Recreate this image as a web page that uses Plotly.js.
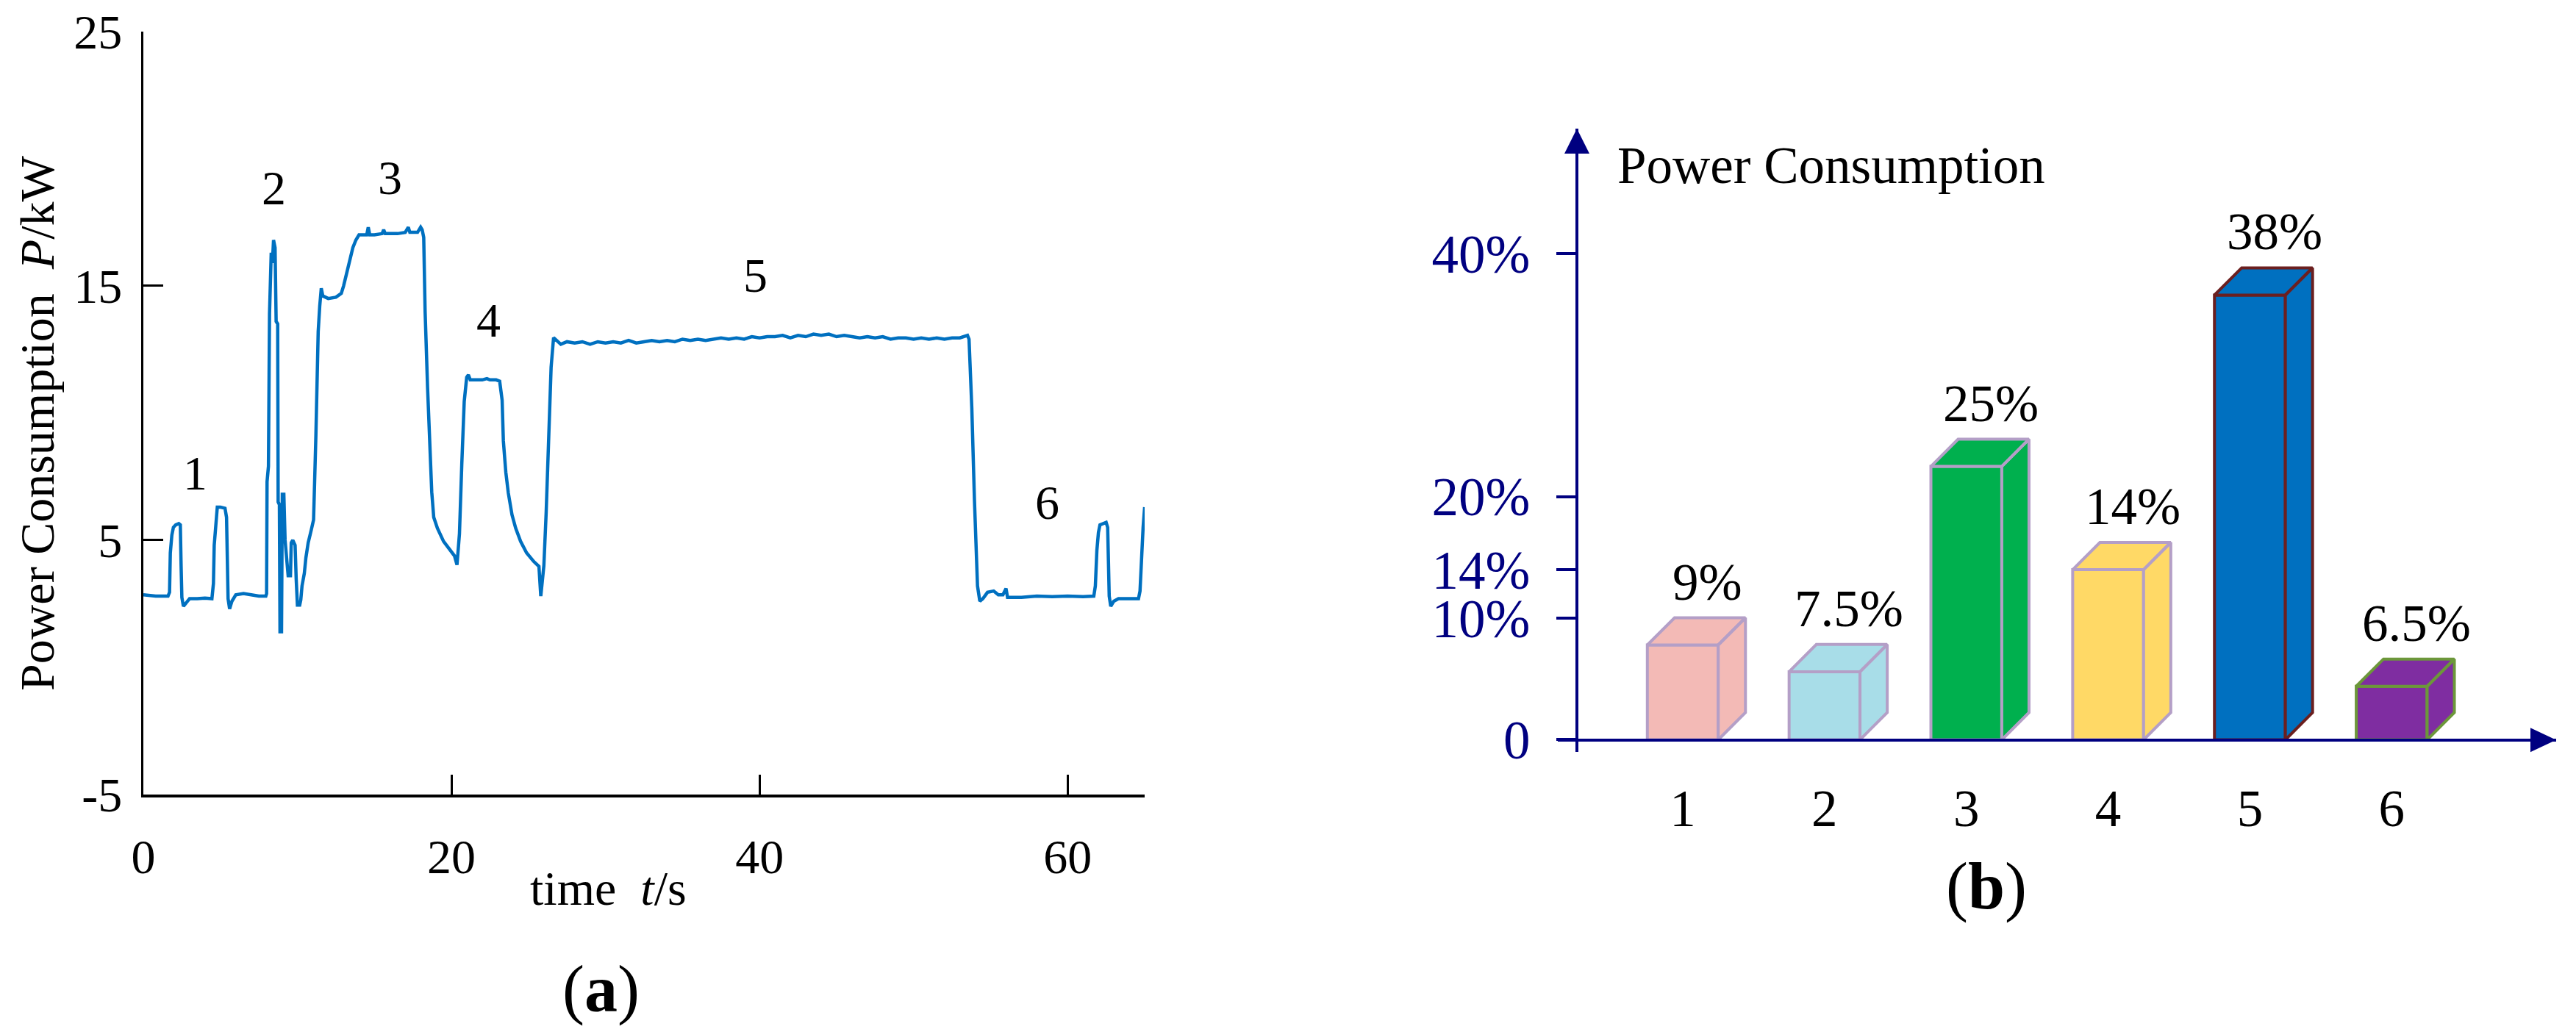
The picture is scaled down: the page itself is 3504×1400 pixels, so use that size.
<!DOCTYPE html>
<html><head><meta charset="utf-8">
<script src="https://cdn.plot.ly/plotly-3.0.1.min.js"></script>
<style>html,body{margin:0;padding:0;background:#fff;} #chart{width:3504px;height:1400px;}</style>
</head><body><div id="chart"></div>
<script>
// ---------- (a) power trace ----------
const timeS = [
 0,0.8,1.6,1.7,1.75,1.85,1.95,2.1,2.3,2.4,2.45,2.5,2.6,2.8,3.0,3.5,4.0,4.45,4.55,4.6,4.7,4.8,5.0,5.3,5.4,5.45,5.5,5.6,5.75,6.0,6.5,7.0,7.5,7.95,
 8.0,8.03,8.12,8.19,8.3,8.38,8.45,8.55,8.62,8.72,8.75,8.83,8.87,8.97,9.02,9.12,9.2,9.3,9.4,9.55,9.6,9.7,9.85,9.92,10.0,10.15,10.22,10.3,10.45,10.55,10.7,10.9,11.05,11.2,11.35,11.45,11.55,11.65,
 12.0,12.5,12.85,13.0,13.2,13.4,13.6,13.8,14.0,14.5,14.6,14.7,15.0,15.5,15.6,15.7,16.5,17.0,17.2,17.3,17.8,18.0,18.1,18.2,
 18.29,18.45,18.61,18.72,18.85,19.09,19.49,19.96,20.2,20.36,20.52,20.67,20.83,20.99,21.1,21.22,21.6,22.0,22.3,22.5,22.9,23.13,23.29,23.37,23.53,23.69,23.93,24.17,24.49,24.88,25.36,25.68,25.8,25.9,26.0,26.15,26.31,26.47,26.63,26.8,27.1,
 27.5,28,28.5,29,29.5,30,30.5,31,31.5,32,32.5,33,33.5,34,34.5,35,35.5,36,36.5,37,37.5,38,38.5,39,39.5,40,40.5,41,41.5,42,42.5,43,43.5,44,44.5,45,45.5,46,46.5,47,47.5,48,48.5,49,49.5,50,50.5,51,51.5,52,52.5,53,53.5,
 53.6,53.7,53.78,53.95,54.05,54.15,54.3,54.5,54.8,55.2,55.5,55.8,56.0,56.1,56.5,57.0,58.0,59.0,60.0,61.0,61.7,61.8,61.9,62.0,62.1,62.3,62.5,62.6,62.65,62.7,62.8,63.0,63.3,64.0,64.6,64.7,64.8,64.9,65.0
];
const powerKW = [
 2.85,2.8,2.8,2.95,4.5,5.2,5.5,5.6,5.65,5.6,4.0,2.75,2.4,2.55,2.7,2.7,2.72,2.7,3.3,4.8,5.8,6.3,6.3,6.25,5.9,4.5,2.7,2.3,2.6,2.85,2.9,2.85,2.8,2.8,
 2.9,7.3,7.9,13.9,16.3,15.9,16.8,16.5,13.6,13.5,6.5,6.4,1.4,1.4,6.8,6.8,5.0,4.3,3.6,3.6,4.9,5.0,4.8,3.5,2.45,2.45,2.65,3.2,3.7,4.3,4.9,5.4,5.8,9.1,13.2,14.2,14.9,14.6,
 14.5,14.55,14.7,15.0,15.5,16.0,16.5,16.8,17.0,17.0,17.3,17.0,17.0,17.05,17.2,17.05,17.05,17.1,17.3,17.1,17.1,17.3,17.2,16.9,
 14.0,11.0,8.8,6.9,5.9,5.47,4.95,4.55,4.38,4.03,5.25,7.96,10.45,11.4,11.5,11.3,11.3,11.3,11.35,11.3,11.3,11.25,10.5,8.9,7.67,6.86,6.0,5.47,4.95,4.5,4.15,3.97,2.8,3.6,4.0,6.1,9.05,11.8,12.96,12.85,12.7,
 12.8,12.75,12.8,12.7,12.8,12.75,12.8,12.75,12.85,12.75,12.8,12.85,12.8,12.85,12.8,12.9,12.85,12.9,12.85,12.9,12.95,12.9,12.95,12.9,13.0,12.95,13.0,13.0,13.05,12.95,13.05,13.0,13.1,13.05,13.1,13.0,13.05,13.0,12.95,13.0,12.95,13.0,12.9,12.95,12.95,12.9,12.95,12.9,12.95,12.9,12.95,12.95,13.05,
 12.9,11.5,10.2,6.6,4.5,3.2,2.6,2.7,2.95,3.0,2.85,2.85,3.1,2.75,2.75,2.75,2.8,2.78,2.8,2.78,2.8,3.2,4.6,5.3,5.6,5.65,5.7,5.5,4.0,2.8,2.4,2.6,2.7,2.7,2.7,3.0,4.5,5.5,6.3
];
const xTicksA = [0, 20, 40, 60];
const yTicksA = [-5, 5, 15, 25];
const yTickTextA = ['-5', '5', '15', '25'];
const phaseNames = ['1', '2', '3', '4', '5', '6'];
const phaseT = [3.36, 8.47, 16.0, 22.4, 39.75, 58.7];
const phaseP = [7.64, 18.86, 19.25, 13.65, 15.4, 6.48];

// ---------- (b) share of power consumption ----------
const categories = [1, 2, 3, 4, 5, 6];
const shares = [9, 7.5, 25, 14, 38, 6.5];          // printed values (%)
const barHeights = [7.8, 5.6, 22.5, 14.0, 36.6, 4.4]; // drawn front-face heights (%)
const yTicksB = [0, 10, 14, 20, 40];
const yTickTextB = ['0', '10%', '14%', '20%', '40%'];
const fillColors = ['#F3BAB6', '#A8DDE8', '#00B04E', '#FFD966', '#0070C0', '#7F2DA1'];
const edgeColors = ['#B49FC7', '#B49FC7', '#B49FC7', '#B49FC7', '#6B1F1F', '#6C973A'];

// ---------- styling constants ----------
const FONT = 'Liberation Serif, "Times New Roman", serif';
const NAVY = '#000080';
const W = 3504, H = 1400;
const px = v => v / W;
const py = v => 1 - v / H;
const BW = 0.5, DX = 0.192, DY = 2.24;   // bar width and 3-D depth (data units)

const traces = [];
traces.push({
  type: 'scatter', mode: 'lines', x: timeS, y: powerKW,
  line: {color: '#0070C0', width: 4.5}, xaxis: 'x', yaxis: 'y', hoverinfo: 'skip'
});
traces.push({
  type: 'bar', x: categories, y: barHeights, width: BW,
  marker: {color: fillColors, line: {color: edgeColors, width: 4}},
  xaxis: 'x2', yaxis: 'y2', hoverinfo: 'skip'
});
categories.forEach((c, i) => {
  const h = barHeights[i];
  const l = c - BW / 2, r = c + BW / 2;
  traces.push({
    type: 'scatter', mode: 'lines', fill: 'toself',
    x: [l, l + DX, r + DX, r, l, null, r, r + DX, r + DX, r, r],
    y: [h, h + DY, h + DY, h, h, null, h, h + DY, DY, 0, h],
    fillcolor: fillColors[i], line: {color: edgeColors[i], width: 4},
    xaxis: 'x2', yaxis: 'y2', hoverinfo: 'skip'
  });
});

const annotations = [];
phaseNames.forEach((n, i) => annotations.push({
  xref: 'x', yref: 'y', x: phaseT[i], y: phaseP[i], text: n, showarrow: false,
  xanchor: 'center', yanchor: 'middle',
  font: {family: FONT, size: 66, color: '#000'}
}));
categories.forEach((c, i) => annotations.push({
  xref: 'x2', yref: 'y2', x: c + DX * 0.9, y: barHeights[i] + DY, text: shares[i] + '%',
  showarrow: false, xanchor: 'center', yanchor: 'bottom', yshift: 8,
  font: {family: FONT, size: 71, color: '#000'}
}));
annotations.push(
  {xref: 'paper', yref: 'paper', x: px(50), y: py(576), textangle: -90,
   xanchor: 'center', yanchor: 'middle',
   text: 'Power Consumption\u00A0\u00A0<i>P</i>/kW', showarrow: false,
   font: {family: FONT, size: 66, color: '#000'}},
  {xref: 'paper', yref: 'paper', x: px(827), y: py(1208), xanchor: 'center', yanchor: 'middle',
   text: 'time\u00A0\u00A0<i>t</i>/s', showarrow: false,
   font: {family: FONT, size: 66, color: '#000'}},
  {xref: 'paper', yref: 'paper', x: px(817), y: py(1346), xanchor: 'center', yanchor: 'middle',
   text: '(<b>a</b>)', showarrow: false,
   font: {family: FONT, size: 90, color: '#000'}},
  {xref: 'paper', yref: 'paper', x: px(2702), y: py(1206), xanchor: 'center', yanchor: 'middle',
   text: '(<b>b</b>)', showarrow: false,
   font: {family: FONT, size: 90, color: '#000'}},
  {xref: 'paper', yref: 'paper', x: px(2198), y: py(249), xanchor: 'left', yanchor: 'bottom', yshift: -17,
   text: 'Power Consumption', showarrow: false,
   font: {family: FONT, size: 71, color: '#000'}}
);

const layout = {
  width: W, height: H, margin: {l: 0, r: 0, t: 0, b: 0},
  paper_bgcolor: '#fff', plot_bgcolor: 'rgba(0,0,0,0)', showlegend: false,
  font: {family: FONT, color: '#000'},
  xaxis: {domain: [px(195), px(1557)], range: [0, 65], tickvals: xTicksA, ticks: 'inside', ticklen: 27,
          tickwidth: 3, tickcolor: '#000', showline: true, linecolor: '#000', linewidth: 3.5,
          showgrid: false, zeroline: false, tickfont: {family: FONT, size: 66, color: '#000'},
          ticklabelstandoff: 24, anchor: 'y', fixedrange: true},
  yaxis: {domain: [py(1081), py(42.7)], range: [-5, 25], tickvals: yTicksA, ticktext: yTickTextA,
          ticks: 'inside', ticklen: 27,
          tickwidth: 3, tickcolor: '#000', showline: true, linecolor: '#000', linewidth: 3.5,
          showgrid: false, zeroline: false, tickfont: {family: FONT, size: 66, color: '#000'},
          ticklabelstandoff: 12, anchor: 'x', fixedrange: true},
  xaxis2: {domain: [px(2119), px(3477)], range: [0.1185, 7.16], tickvals: categories,
           ticktext: categories.map(String), ticks: '', showline: true, linecolor: NAVY, linewidth: 4,
           anchor: 'free', position: py(1006.7), showgrid: false, zeroline: false,
           tickfont: {family: FONT, size: 71, color: '#000'}, ticklabelstandoff: 30, fixedrange: true},
  yaxis2: {domain: [py(1023), py(175)], range: [-1, 50.3], tickvals: yTicksB, ticktext: yTickTextB,
           ticks: 'outside', ticklen: 26, tickwidth: 4, tickcolor: NAVY, showline: true, linecolor: NAVY,
           linewidth: 4, anchor: 'free', position: px(2145), showgrid: false, zeroline: false,
           tickfont: {family: FONT, size: 73, color: NAVY}, ticklabelstandoff: 21, fixedrange: true},
  shapes: [
    {type: 'path', xref: 'paper', yref: 'paper', xsizemode: 'pixel', ysizemode: 'pixel',
     xanchor: px(2145), yanchor: py(175), path: 'M 0 0 L -17 -34 L 17 -34 Z',
     fillcolor: NAVY, line: {width: 0}},
    {type: 'path', xref: 'paper', yref: 'paper', xsizemode: 'pixel', ysizemode: 'pixel',
     xanchor: px(3477), yanchor: py(1006.7), path: 'M 0 0 L -35 16.5 L -35 -16.5 Z',
     fillcolor: NAVY, line: {width: 0}}
  ],
  annotations: annotations
};

Plotly.newPlot('chart', traces, layout, {staticPlot: true, displayModeBar: false});
</script>
</body></html>
